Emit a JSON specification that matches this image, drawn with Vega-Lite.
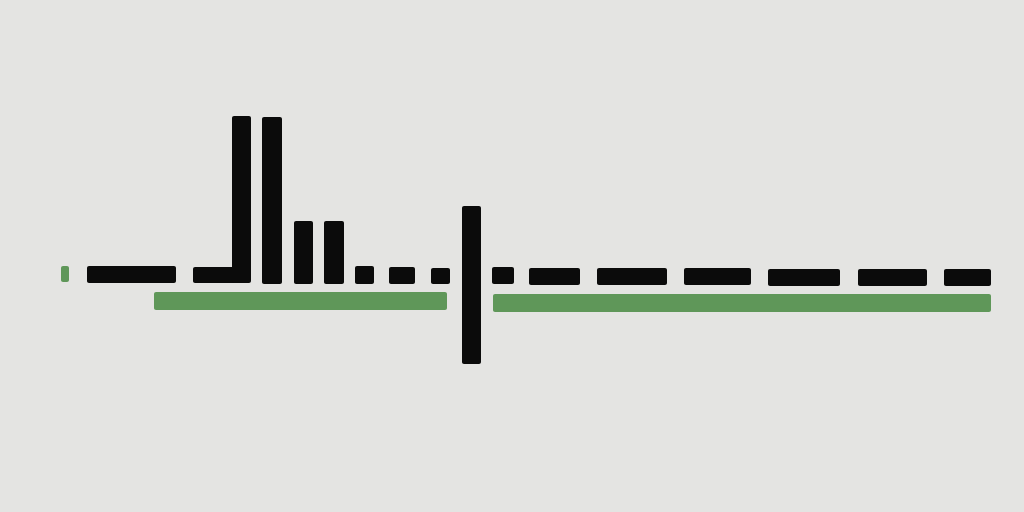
{
  "$schema": "https://vega.github.io/schema/vega-lite/v6.json",
  "autosize": {"type": "fit", "contains": "padding"},
  "width": 1024,
  "height": 512,
  "padding": 0,
  "background": "#e4e4e2",
  "config": {"view": {"stroke": null}},
  "data": {
    "values": [
      {"series": "green", "x0": 61, "x1": 69, "top": 266, "bottom": 282},
      {"series": "black", "x0": 87, "x1": 176, "top": 266, "bottom": 283},
      {"series": "black", "x0": 193, "x1": 249, "top": 267, "bottom": 283},
      {"series": "black", "x0": 232, "x1": 251, "top": 116, "bottom": 283},
      {"series": "black", "x0": 262, "x1": 282, "top": 117, "bottom": 284},
      {"series": "black", "x0": 294, "x1": 313, "top": 221, "bottom": 284},
      {"series": "black", "x0": 324, "x1": 344, "top": 221, "bottom": 284},
      {"series": "black", "x0": 355, "x1": 374, "top": 266, "bottom": 284},
      {"series": "black", "x0": 389, "x1": 415, "top": 267, "bottom": 284},
      {"series": "black", "x0": 431, "x1": 450, "top": 268, "bottom": 284},
      {"series": "black", "x0": 462, "x1": 481, "top": 206, "bottom": 364},
      {"series": "black", "x0": 492, "x1": 514, "top": 267, "bottom": 284},
      {"series": "black", "x0": 529, "x1": 580, "top": 268, "bottom": 285},
      {"series": "black", "x0": 597, "x1": 667, "top": 268, "bottom": 285},
      {"series": "black", "x0": 684, "x1": 751, "top": 268, "bottom": 285},
      {"series": "black", "x0": 768, "x1": 840, "top": 269, "bottom": 286},
      {"series": "black", "x0": 858, "x1": 927, "top": 269, "bottom": 286},
      {"series": "black", "x0": 944, "x1": 991, "top": 269, "bottom": 286},
      {"series": "green", "x0": 154, "x1": 447, "top": 292, "bottom": 310},
      {"series": "green", "x0": 493, "x1": 991, "top": 294, "bottom": 312}
    ]
  },
  "mark": {"type": "rect", "cornerRadius": 2},
  "encoding": {
    "x": {"field": "x0", "type": "quantitative", "scale": {"domain": [0, 1024], "nice": false, "zero": false}, "axis": null},
    "x2": {"field": "x1"},
    "y": {"field": "top", "type": "quantitative", "scale": {"domain": [0, 512], "reverse": true, "nice": false, "zero": false}, "axis": null},
    "y2": {"field": "bottom"},
    "color": {
      "field": "series",
      "type": "nominal",
      "scale": {"domain": ["black", "green"], "range": ["#0b0b0b", "#5f9759"]},
      "legend": null
    }
  }
}
